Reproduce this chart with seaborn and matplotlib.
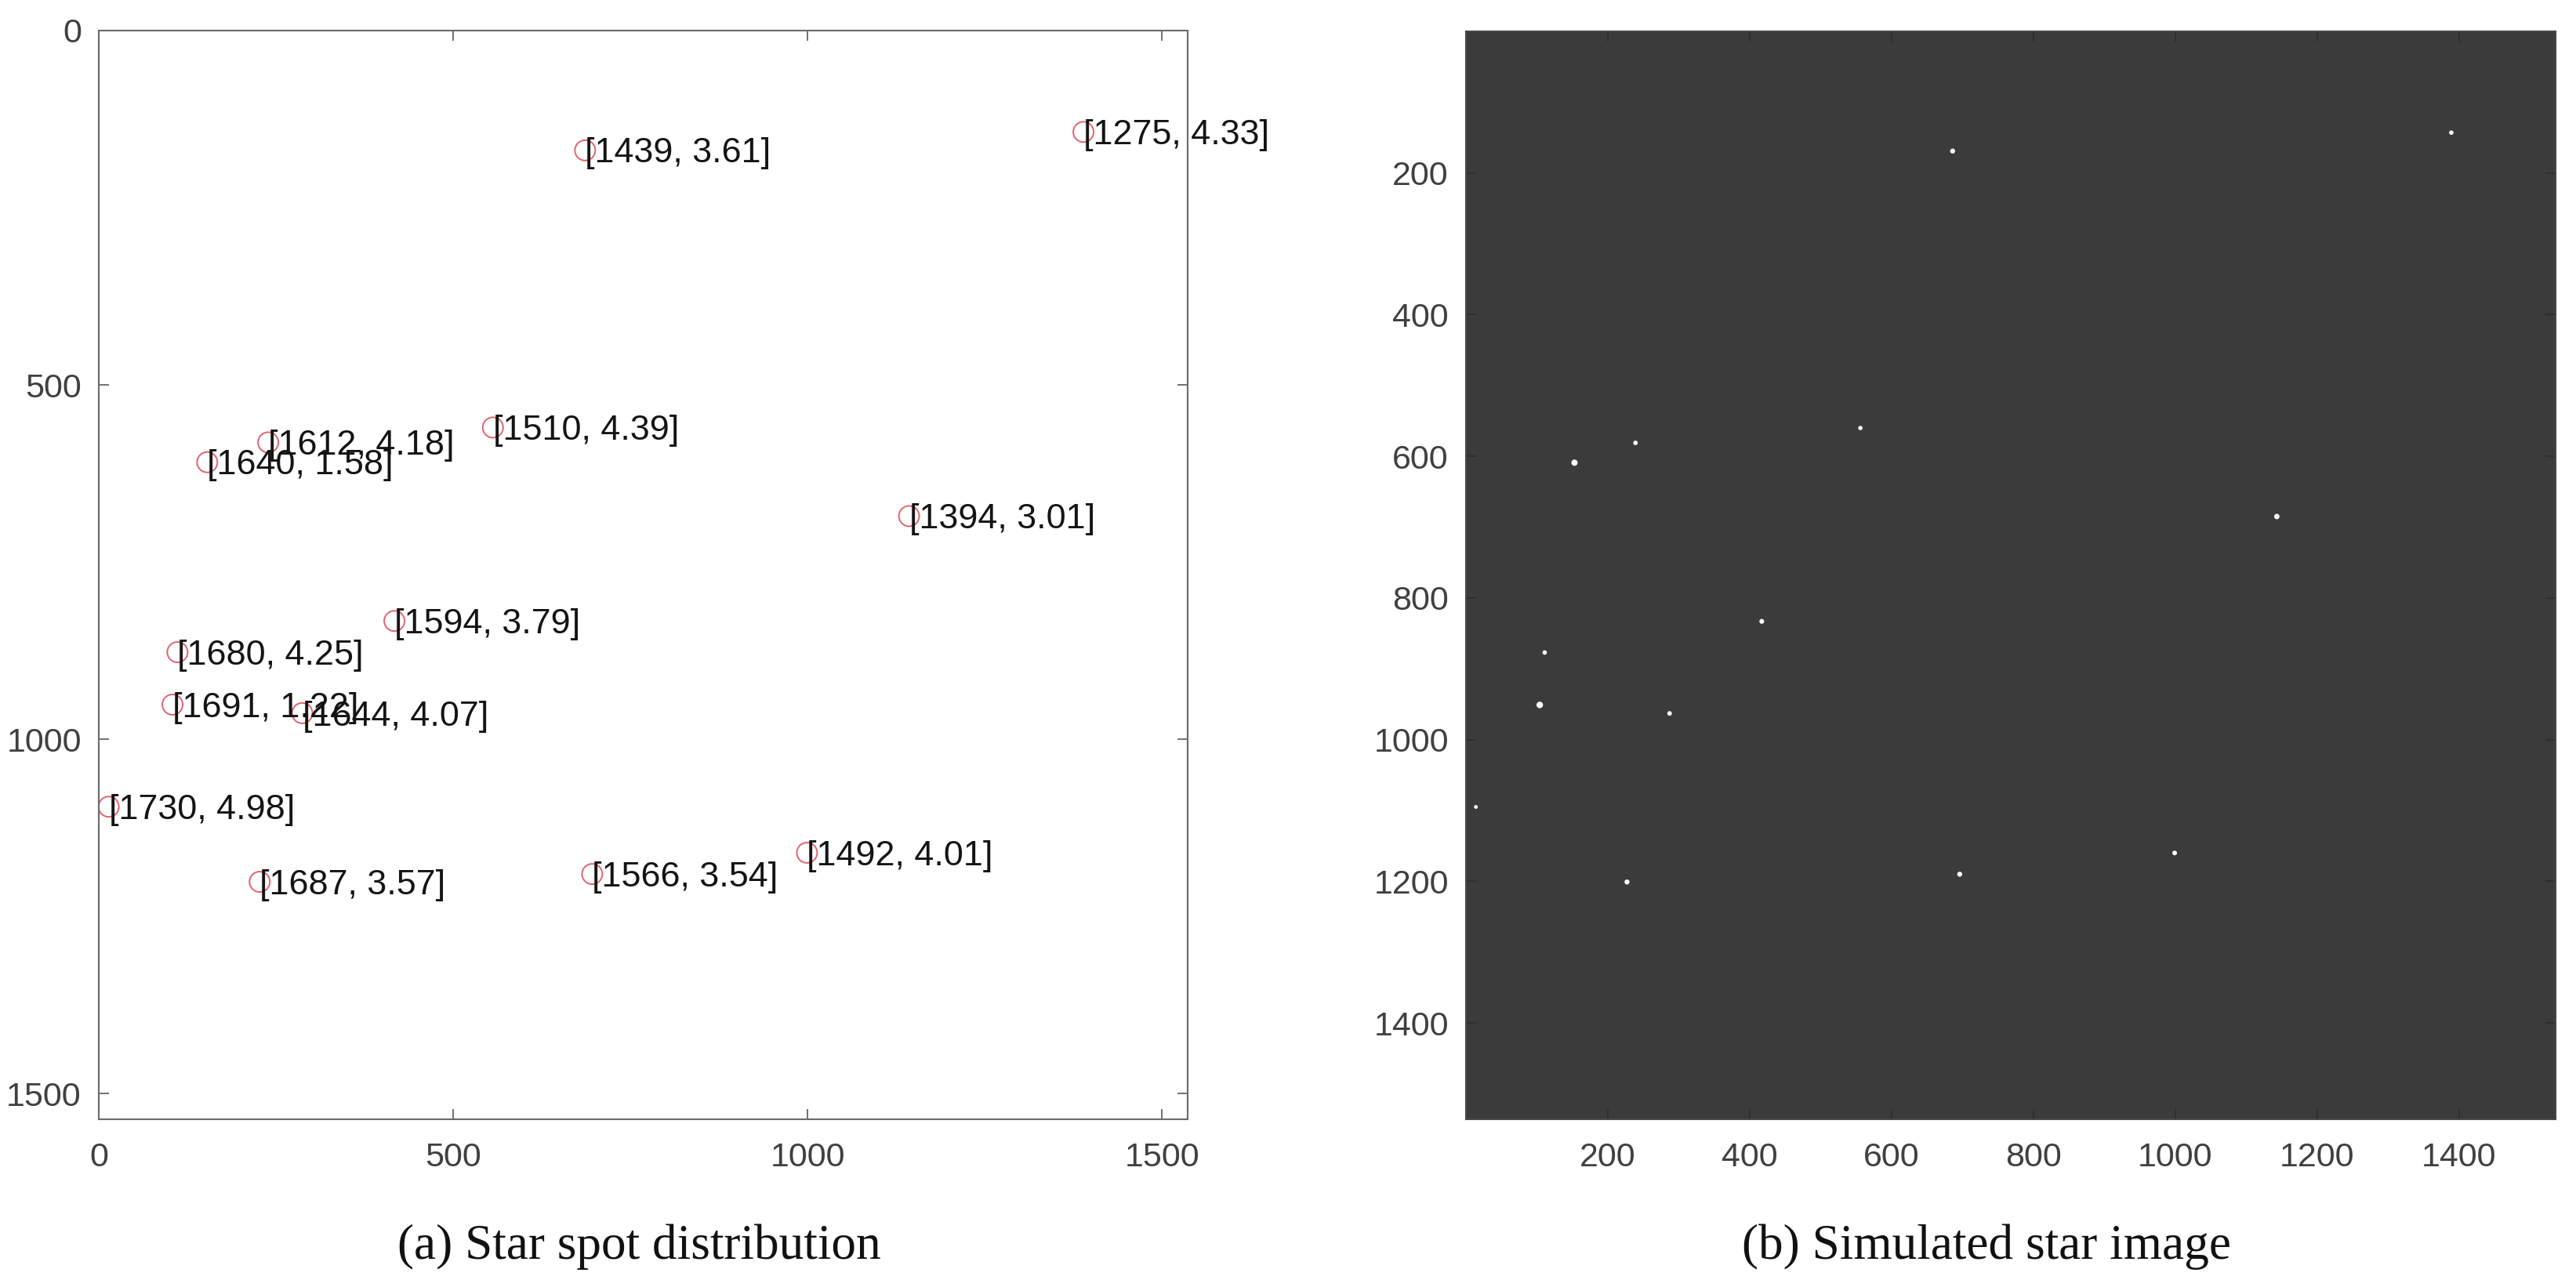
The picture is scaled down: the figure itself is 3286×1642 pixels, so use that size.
import matplotlib
matplotlib.use("Agg")
import matplotlib.pyplot as plt
import numpy as np
import pandas as pd
import seaborn as sns

sns.set_theme(style="white")

# star spots
spot_x = [686, 1389, 239, 556, 153, 1143, 417, 111, 104, 287, 14, 227, 696, 999]
spot_y = [169, 143, 581, 560, 609, 685, 833, 877, 951, 963, 1095, 1201, 1190, 1160]
spot_gray = [1439, 1275, 1612, 1510, 1640, 1394, 1594, 1680, 1691, 1644, 1730, 1687, 1566, 1492]
spot_mag = [3.61, 4.33, 4.18, 4.39, 1.58, 3.01, 3.79, 4.25, 1.22, 4.07, 4.98, 3.57, 3.54, 4.01]

left_ticks = [0, 500, 1000, 1500]
right_ticks = [200, 400, 600, 800, 1000, 1200, 1400]
caption_a = "(a) Star spot distribution"
caption_b = "(b) Simulated star image"

W, H = 3287, 1642
fig = plt.figure(figsize=(W / 100, H / 100), dpi=100, facecolor="white")


def box(l, t, r, b):
    return [l / W, 1 - b / H, (r - l) / W, (b - t) / H]


df = pd.DataFrame({"x": spot_x, "y": spot_y, "gray": spot_gray, "mag": spot_mag})
tick_col = "#404040"
spine_col = "#6a6a6a"
sans = "Liberation Sans"

# panel (a)
ax1 = fig.add_axes(box(126, 39, 1515, 1428))
sns.scatterplot(data=df, x="x", y="y", s=350, marker="o", ax=ax1, legend=False, zorder=2)
pts = ax1.collections[0]
pts.set_facecolor("none")
pts.set_edgecolor("#e2636e")
pts.set_linewidth(1.4)
for _, row in df.iterrows():
    ax1.annotate(f"[{int(row['gray'])}, {row['mag']:.2f}]", (row["x"], row["y"]),
                 xytext=(0, -3), textcoords="offset points",
                 family=sans, fontsize=32.3, color="#141414", va="center", ha="left", zorder=3)
ax1.set_xlim(0, 1536)
ax1.set_ylim(1536, 0)
ax1.set_xticks(left_ticks)
ax1.set_yticks(left_ticks)
ax1.set_xlabel("")
ax1.set_ylabel("")

# panel (b)
ax2 = fig.add_axes(box(1870, 40, 3260, 1428))
ax2.set_facecolor("#3b3b3b")
sns.scatterplot(data=df, x="x", y="y", size="mag", sizes=(36, 12), size_norm=(1.2, 5.0),
                color="white", marker="o", linewidth=0, ax=ax2, legend=False)
ax2.set_xlim(0, 1536)
ax2.set_ylim(1536, 0)
ax2.set_xticks(right_ticks)
ax2.set_yticks(right_ticks)
ax2.set_xlabel("")
ax2.set_ylabel("")

for ax, col, tc in ((ax1, spine_col, "#666666"), (ax2, "#484848", "#2e2e2e")):
    for s in ax.spines.values():
        s.set_visible(True)
        s.set_color(col)
        s.set_linewidth(1.5)
    ax.tick_params(axis="both", which="major", direction="in", length=9.5, width=1.3,
                   color=tc, top=True, right=True, bottom=True, left=True,
                   labelsize=31, labelcolor=tick_col)
    ax.tick_params(axis="x", pad=21)
    ax.tick_params(axis="y", pad=16)
    for lab in ax.get_xticklabels() + ax.get_yticklabels():
        lab.set_family(sans)

fig.text(815 / W, 1 - 1591 / H, caption_a, family="Liberation Serif", fontsize=45.5,
         color="#111111", ha="center", va="center")
fig.text(2534 / W, 1 - 1591 / H, caption_b, family="Liberation Serif", fontsize=45.5,
         color="#111111", ha="center", va="center")

fig.savefig("out.png", dpi=100, facecolor="white")
